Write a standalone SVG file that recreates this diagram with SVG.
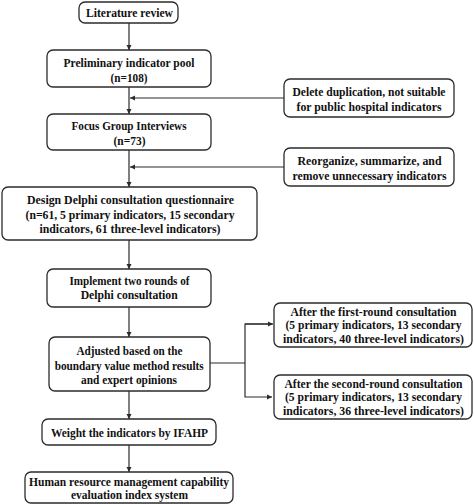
<svg xmlns="http://www.w3.org/2000/svg" width="474" height="504" viewBox="0 0 474 504">
<style>
.b{fill:#fff;stroke:#2b2b2b;stroke-width:1.3}
text{font-family:"Liberation Serif","Times New Roman",serif;font-weight:bold;font-size:12.5px;fill:#111;text-anchor:middle}
.s{font-size:12px}
.c{fill:none;stroke:#2b2b2b;stroke-width:1.2}
</style>
<defs>
<marker id="a" markerWidth="6" markerHeight="6" refX="5" refY="3" orient="auto" markerUnits="userSpaceOnUse">
<path d="M0,0.5 L5,3 L0,5.5 Z" fill="#2b2b2b"/>
</marker>
</defs>
<rect width="474" height="504" fill="#fff"/>
<g id="connectors">
<path class="c" d="M129,23 V50" marker-end="url(#a)"/>
<path class="c" d="M129,87 V114" marker-end="url(#a)"/>
<path class="c" d="M284,98 H130" marker-end="url(#a)"/>
<path class="c" d="M129,150 V187" marker-end="url(#a)"/>
<path class="c" d="M284,167 H130" marker-end="url(#a)"/>
<path class="c" d="M129,240 V269" marker-end="url(#a)"/>
<path class="c" d="M129,307 V337" marker-end="url(#a)"/>
<path class="c" d="M210,363 H245"/>
<path class="c" d="M272,324 H245 V397 H272" marker-end="url(#a)"/>
<path class="c" d="M245,324 H273" marker-end="url(#a)"/>
<path class="c" d="M129,391 V419" marker-end="url(#a)"/>
<path class="c" d="M129,445 V472" marker-end="url(#a)"/>
</g>
<g id="n1"><rect class="b" x="79" y="2" width="99" height="21" rx="6"/><text x="129.5" y="17" textLength="87" lengthAdjust="spacingAndGlyphs">Literature review</text></g>
<g id="n2"><rect class="b" x="47" y="50" width="164" height="37" rx="6"/><text x="129" y="67" textLength="131" lengthAdjust="spacingAndGlyphs">Preliminary indicator pool</text><text x="129" y="82" textLength="37" lengthAdjust="spacingAndGlyphs">(n=108)</text></g>
<g id="s1"><rect class="b" x="284" y="79" width="170" height="38" rx="6"/><text x="369" y="96" textLength="153" lengthAdjust="spacingAndGlyphs">Delete duplication, not suitable</text><text x="369" y="111" textLength="145" lengthAdjust="spacingAndGlyphs">for public hospital indicators</text></g>
<g id="n3"><rect class="b" x="47" y="114" width="164" height="36" rx="6"/><text x="129" y="130" textLength="115" lengthAdjust="spacingAndGlyphs">Focus Group Interviews</text><text x="129.5" y="145" textLength="32" lengthAdjust="spacingAndGlyphs">(n=73)</text></g>
<g id="s2"><rect class="b" x="284" y="148" width="170" height="38" rx="6"/><text x="369.5" y="165" textLength="144" lengthAdjust="spacingAndGlyphs">Reorganize, summarize, and</text><text x="369.5" y="180" textLength="154" lengthAdjust="spacingAndGlyphs">remove unnecessary indicators</text></g>
<g id="n4"><rect class="b" x="2" y="187" width="255" height="53" rx="6"/><text x="130.5" y="203.5" textLength="207" lengthAdjust="spacingAndGlyphs">Design Delphi consultation questionnaire</text><text x="130" y="218.5" textLength="209" lengthAdjust="spacingAndGlyphs">(n=61, 5 primary indicators, 15 secondary</text><text x="130" y="233" textLength="181" lengthAdjust="spacingAndGlyphs">indicators, 61 three-level indicators)</text></g>
<g id="n5"><rect class="b" x="47" y="269" width="164" height="38" rx="6"/><text x="129.5" y="285" textLength="120" lengthAdjust="spacingAndGlyphs">Implement two rounds of</text><text x="129.2" y="299" textLength="97" lengthAdjust="spacingAndGlyphs">Delphi consultation</text></g>
<g id="n6"><rect class="b" x="49" y="337" width="161" height="54" rx="6"/><text x="129.5" y="355" textLength="106" lengthAdjust="spacingAndGlyphs">Adjusted based on the</text><text x="129.2" y="370" textLength="149" lengthAdjust="spacingAndGlyphs">boundary value method results</text><text x="129" y="384" textLength="96" lengthAdjust="spacingAndGlyphs">and expert opinions</text></g>
<g id="r1"><rect class="b" x="274" y="303" width="198" height="44" rx="6"/><text class="s" x="373.5" y="315.5" textLength="166" lengthAdjust="spacingAndGlyphs">After the first-round consultation</text><text class="s" x="373.5" y="329" textLength="176" lengthAdjust="spacingAndGlyphs">(5 primary indicators, 13 secondary</text><text class="s" x="373.5" y="342.5" textLength="181" lengthAdjust="spacingAndGlyphs">indicators, 40 three-level indicators)</text></g>
<g id="r2"><rect class="b" x="274" y="375" width="198" height="44" rx="6"/><text class="s" x="373.5" y="387.5" textLength="178" lengthAdjust="spacingAndGlyphs">After the second-round consultation</text><text class="s" x="373.5" y="401" textLength="177" lengthAdjust="spacingAndGlyphs">(5 primary indicators, 13 secondary</text><text class="s" x="373.5" y="414.5" textLength="181" lengthAdjust="spacingAndGlyphs">indicators, 36 three-level indicators)</text></g>
<g id="n7"><rect class="b" x="42" y="419" width="174" height="26" rx="6"/><text x="129.5" y="437" textLength="157" lengthAdjust="spacingAndGlyphs">Weight the indicators by IFAHP</text></g>
<g id="n8"><rect class="b" x="25" y="472" width="208" height="31" rx="6"/><text x="129" y="486" textLength="200" lengthAdjust="spacingAndGlyphs">Human resource management capability</text><text x="129.5" y="499" textLength="117" lengthAdjust="spacingAndGlyphs">evaluation index system</text></g>
</svg>
